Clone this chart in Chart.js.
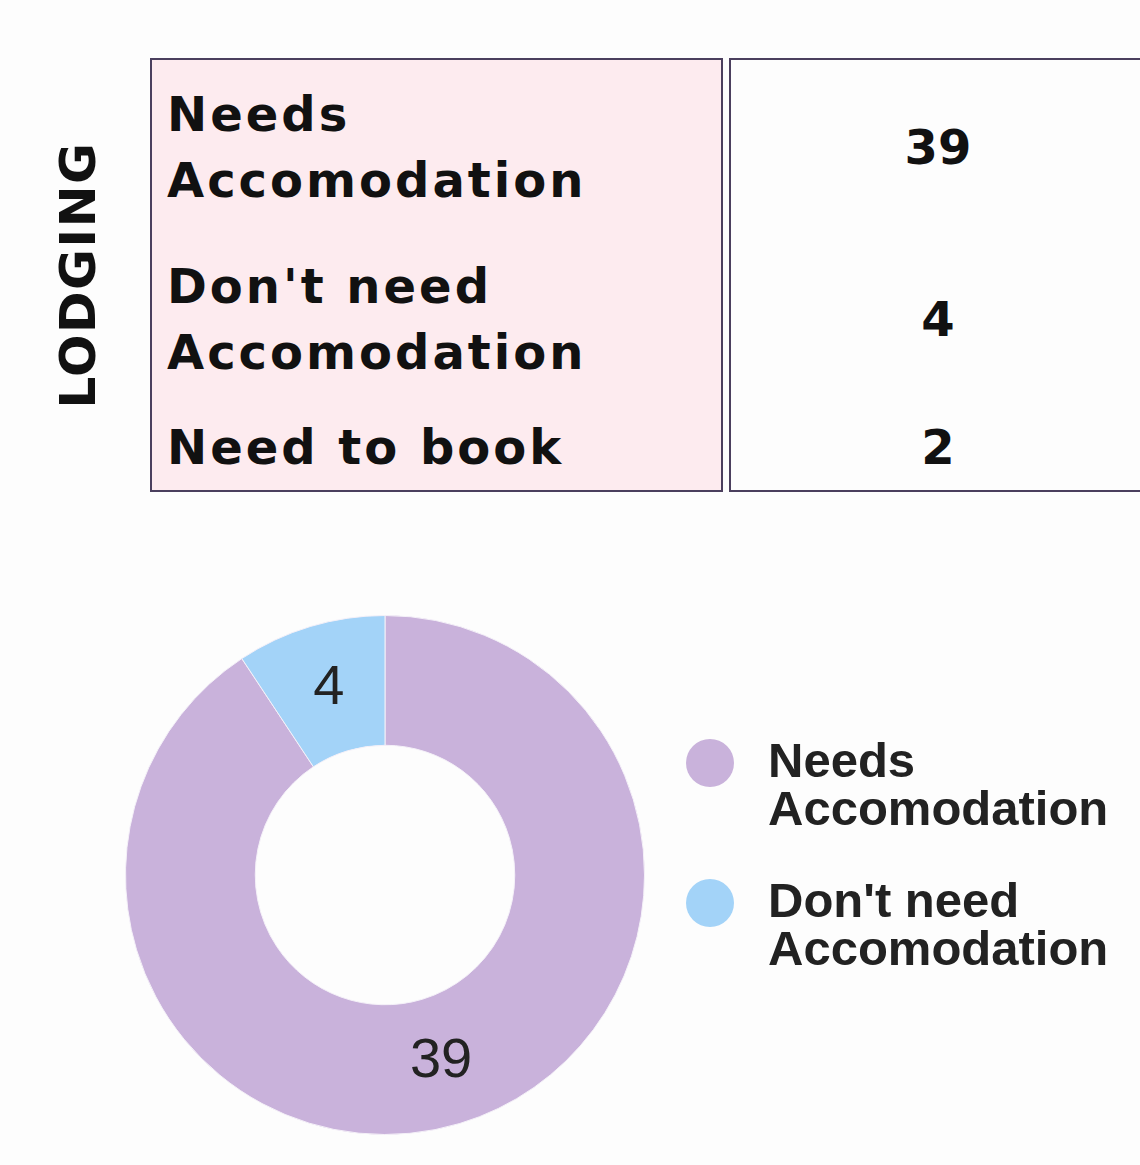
<!DOCTYPE html>
<html>
<head>
<meta charset="utf-8">
<script src="https://cdn.jsdelivr.net/npm/chart.js@4.4.0/dist/chart.umd.min.js"></script>
<style>
  html, body { margin: 0; padding: 0; background: #fdfdfd; }
  body { width: 1140px; height: 1165px; position: relative; overflow: hidden; }
  .side {
    position: absolute; left: 78px; top: 275px;
    transform: translate(-50%, -50%) rotate(-90deg);
    font: bold 50px "DejaVu Sans", sans-serif; letter-spacing: 1.5px; color: #111; white-space: nowrap;
  }
  .cell {
    position: absolute; top: 58px; height: 434px; box-sizing: border-box;
    border: 2px solid #4b3f5e;
  }
  #labelsCell { left: 150px; width: 573px; background: #fdebef; }
  #valuesCell { left: 729px; width: 418px; background: #fdfdfd; }
  .row { display: flex; align-items: center; box-sizing: border-box; }
  #labelsCell .row { padding-left: 15px; padding-right: 10px; }
  #labelsCell .row span { letter-spacing: 3px; }
  #valuesCell .row { justify-content: center; }
  .row span { font: bold 48px "DejaVu Sans", sans-serif; line-height: 66px; color: #111; }
  #chartBox { position: absolute; left: 115px; top: 605px; width: 540px; height: 540px; }
  #legend { position: absolute; left: 686px; top: 736px; }
  .item { position: relative; padding-left: 82px; margin-bottom: 44px; }
  .dot { position: absolute; left: 0; top: 3px; width: 48px; height: 48px; border-radius: 50%; }
  .item div.txt { font: bold 49px "Liberation Sans", Arial, sans-serif; line-height: 48px; color: #222; width: 380px; }
</style>
</head>
<body>
<div class="side">LODGING</div>
<div class="cell" id="labelsCell"></div>
<div class="cell" id="valuesCell"></div>
<div id="chartBox"><canvas id="donut"></canvas></div>
<div id="legend"></div>

<script>
// dados da tabela e do gráfico
const categories = ["Needs Accomodation", "Don't need Accomodation", "Need to book"];
const counts = [39, 4, 2];
const chartLabels = ["Needs Accomodation", "Don't need Accomodation"];
const chartValues = [39, 4];
const sliceColors = ["#c9b2db", "#a3d3f8"];
const rowHeights = [174, 170, 86];

// monta a tabela
const labelsCell = document.getElementById("labelsCell");
const valuesCell = document.getElementById("valuesCell");
categories.forEach(function (cat, i) {
  const r1 = document.createElement("div");
  r1.className = "row";
  r1.style.height = rowHeights[i] + "px";
  r1.innerHTML = "<span>" + cat + "</span>";
  labelsCell.appendChild(r1);

  const r2 = document.createElement("div");
  r2.className = "row";
  r2.style.height = rowHeights[i] + "px";
  r2.innerHTML = "<span>" + counts[i] + "</span>";
  valuesCell.appendChild(r2);
});

// rótulos dentro das fatias
const sliceLabels = {
  id: "sliceLabels",
  afterDatasetsDraw(chart) {
    const ctx = chart.ctx;
    const meta = chart.getDatasetMeta(0);
    ctx.save();
    ctx.font = "56px 'Liberation Sans', Arial, sans-serif";
    ctx.fillStyle = "#222";
    ctx.textAlign = "center";
    ctx.textBaseline = "middle";
    meta.data.forEach(function (arc, i) {
      const p = arc.tooltipPosition();
      ctx.fillText(String(chart.data.datasets[0].data[i]), p.x, p.y);
    });
    ctx.restore();
  }
};

const chart = new Chart(document.getElementById("donut"), {
  type: "doughnut",
  data: {
    labels: chartLabels,
    datasets: [{
      data: chartValues,
      backgroundColor: sliceColors,
      borderColor: "#f4f0f8",
      borderWidth: 1,
      hoverOffset: 0
    }]
  },
  options: {
    responsive: true,
    maintainAspectRatio: false,
    animation: false,
    cutout: "50%",
    layout: { padding: 10 },
    plugins: { legend: { display: false }, tooltip: { enabled: false } }
  },
  plugins: [sliceLabels]
});

// legenda em HTML a partir dos dados do gráfico
const legend = document.getElementById("legend");
chart.data.labels.forEach(function (lab, i) {
  const item = document.createElement("div");
  item.className = "item";
  item.innerHTML = '<span class="dot" style="background:' + sliceColors[i] + '"></span><div class="txt">' + lab + "</div>";
  legend.appendChild(item);
});
</script>
</body>
</html>
